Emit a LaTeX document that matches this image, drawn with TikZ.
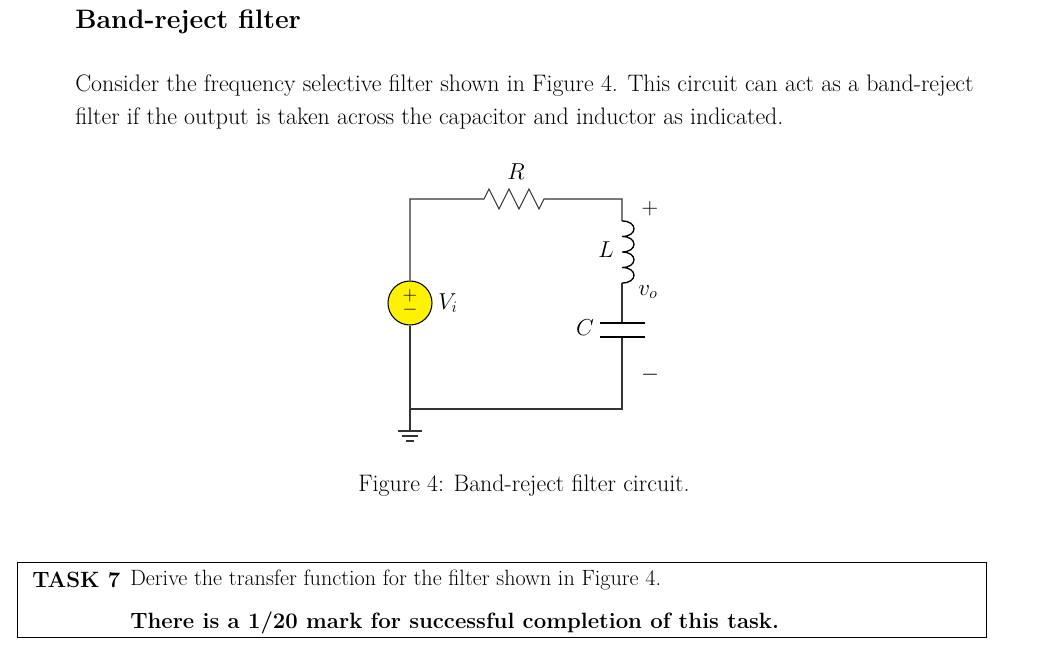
\documentclass[tikz,border=0pt]{standalone}
\tikzset{w/.style={line width=0.8pt, black!80}, lbl/.style={font=\fontsize{17}{20}\selectfont, inner sep=0pt}}
\begin{document}
\begin{tikzpicture}[x=0.75pt,y=-0.75pt]
\useasboundingbox (0,0) rectangle (1047,663);
\fontsize{17.9}{21}\selectfont
\node[anchor=west, inner sep=0pt, font=\fontsize{20}{24}\selectfont\bfseries] (title) at (75,22) {Band-reject filter};
\node[anchor=north west, inner sep=0pt, align=left] (para) at (75,74) {Consider the frequency selective filter shown in Figure 4. This circuit can act as a band-reject\\[4pt]filter if the output is taken across the capacitor and inductor as indicated.};
% circuit
\coordinate (tl) at (410,199); \coordinate (tr) at (622,199);
\coordinate (bl) at (410,409); \coordinate (br) at (622,409);
\coordinate (r1) at (484,199); \coordinate (r2) at (548,199);
\coordinate (l1) at (622,221); \coordinate (l2) at (622,283);
\coordinate (c1) at (622,323); \coordinate (c2) at (622,337);
\coordinate (gnd) at (410,431);
\node[circle, draw, line width=0.8pt, fill=yellow, minimum size=44*0.75pt, inner sep=0pt, align=center, font=\fontsize{14}{9}\selectfont] (src) at (410,303) {$+$\\$-$};
\draw[w] (src.north) -- (tl) -- (r1) -- ++(5,-10) -- ++(10,20) -- ++(10,-20) -- ++(10,20) -- ++(10,-20) -- ++(10,20) -- ++(5,-10) -- (r2) -- (tr) -- (l1);
\draw[line width=1pt] (l1) .. controls +(16,0) and +(16,0) .. ++(0,15.5) .. controls +(16,0) and +(16,0) .. ++(0,15.5) .. controls +(16,0) and +(16,0) .. ++(0,15.5) .. controls +(16,0) and +(16,0) .. (l2);
\draw[w] (l2) -- (c1); \draw[w] (c2) -- (br) -- (bl) -- (src.south);
\draw[line width=1pt] (600,323) -- (645,323) (600,337) -- (645,337);
\draw[w] (bl) -- (gnd);
\draw[w] (398,431) -- (422,431) (402,436) -- (418,436) (406,441) -- (414,441);
\node[lbl] (vi) at (448,303) {$V_i$};
\node[lbl] (R) at (516,172) {$R$};
\node[lbl] (L) at (606,250) {$L$};
\node[lbl] (C) at (585,328) {$C$};
\node[lbl] (vo) at (648,292) {$v_o$};
\node[lbl] (p) at (650,209) {$+$};
\node[lbl] (m) at (650,375) {$-$};
\node[inner sep=0pt] (cap) at (524,486) {Figure 4: Band-reject filter circuit.};
\draw[line width=0.6pt] (17,562) rectangle (986,637);
\begin{scope}[font=\fontsize{16.6}{20}\selectfont]
\node[anchor=west, inner sep=0pt, font=\fontsize{16.6}{20}\selectfont\bfseries] (task) at (32,580) {TASK 7};
\node[anchor=west, inner sep=0pt] (t1) at (130,580) {Derive the transfer function for the filter shown in Figure 4.};
\node[anchor=west, inner sep=0pt, font=\fontsize{16.6}{20}\selectfont\bfseries] (t2) at (130,623) {There is a 1/20 mark for successful completion of this task.};
\end{scope}
\end{tikzpicture}
\end{document}
